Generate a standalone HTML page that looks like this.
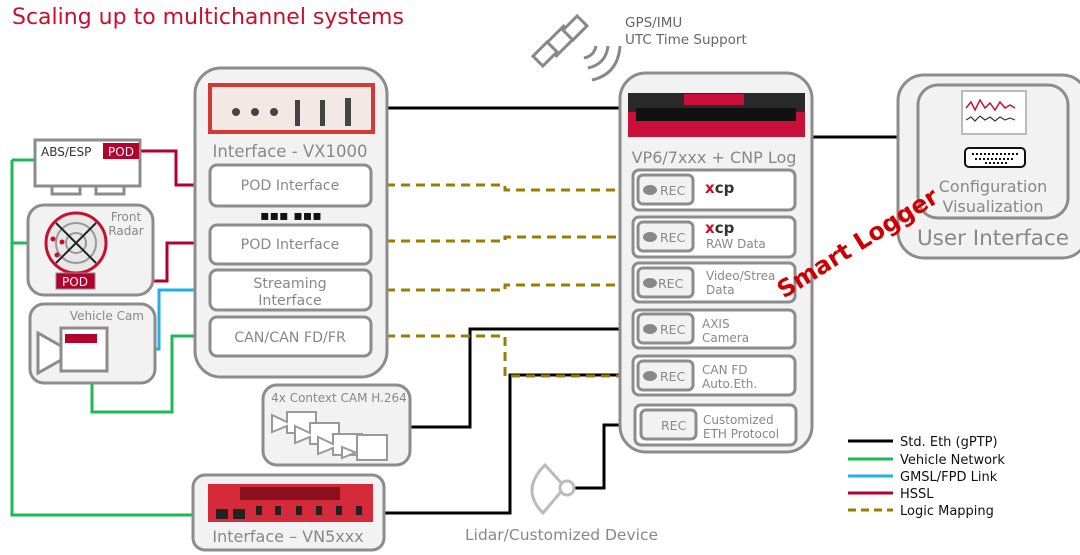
<!DOCTYPE html>
<html><head><meta charset="utf-8"><style>
body{margin:0;background:#fff;}
svg{display:block;font-family:"DejaVu Sans","Liberation Sans",sans-serif;}
</style></head><body>
<svg width="1080" height="555" viewBox="0 0 1080 555" xmlns="http://www.w3.org/2000/svg">
<text x="12" y="24" font-size="22" fill="#c8102e">Scaling up to multichannel systems</text>

<!-- GPS -->
<g stroke="#888" stroke-width="3" fill="#fff">
<rect x="552" y="28" width="16" height="26" transform="rotate(45 560 41)"/>
<rect x="538" y="44" width="14" height="20" transform="rotate(45 545 54)"/>
<rect x="568" y="18" width="14" height="20" transform="rotate(45 575 28)"/>
<path d="M584 58 q10 -2 12 -12 M588 68 q18 -4 20 -22 M592 80 q26 -6 28 -34" fill="none"/>
</g>
<text x="625" y="27" font-size="13.5" fill="#666">GPS/IMU</text>
<text x="625" y="44" font-size="13.5" fill="#666">UTC Time Support</text>

<!-- connectors -->
<g fill="none" stroke-width="3">
<path d="M12 160 V515 H195 M12 160 H37 M12 243 H46 M92 383 V412 H172 V336 H210" stroke="#1db954"/>
<path d="M140 151 H176 V185 H210 M95 281 H167 V243 H210" stroke="#b3002d"/>
<path d="M108 349 H159 V290 H210" stroke="#1fb0e8"/>
<path d="M373 108 H628 M810 137 H898 M410 427 H470 V329 H636 M385 513 H510 V375 H640 M575 488 H604 V425 H636" stroke="#000"/>
<g stroke="#9c7c00" stroke-dasharray="9,6">
<path d="M371 185 H505 V190 H640"/>
<path d="M371 241 H505 V237 H640"/>
<path d="M371 290 H505 V285 H640"/>
<path d="M371 336 H505 V376 H640"/>
</g>
</g>

<!-- VX1000 -->
<rect x="195" y="68" width="192" height="309" rx="26" fill="#f2f2f2" stroke="#8c8c8c" stroke-width="3"/>
<rect x="210" y="85" width="163" height="47" fill="#f4e8e4" stroke="#d23a3a" stroke-width="4"/>
<g fill="#444"><circle cx="236" cy="112" r="4"/><circle cx="255" cy="112" r="4"/><circle cx="274" cy="112" r="4"/><rect x="295" y="100" width="5" height="26"/><rect x="320" y="100" width="5" height="26"/><rect x="345" y="98" width="6" height="28"/></g>
<text x="290" y="157" font-size="16.5" fill="#888" text-anchor="middle">Interface - VX1000</text>
<g fill="#fff" stroke="#8c8c8c" stroke-width="3">
<rect x="210" y="165" width="161" height="41" rx="7"/>
<rect x="210" y="225" width="161" height="39" rx="7"/>
<rect x="210" y="270" width="161" height="40" rx="7"/>
<rect x="210" y="317" width="161" height="39" rx="7"/>
</g>
<g font-size="14.2" fill="#888" text-anchor="middle">
<text x="290" y="190">POD Interface</text>
<text x="290" y="249">POD Interface</text>
<text x="290" y="288">Streaming</text>
<text x="290" y="305">Interface</text>
<text x="290" y="342">CAN/CAN FD/FR</text>
</g>
<text x="291" y="220" font-size="14" font-weight="bold" fill="#111" text-anchor="middle">▪▪▪ ▪▪▪</text>

<!-- ABS/ESP -->
<g fill="#fff" stroke="#8c8c8c" stroke-width="3">
<rect x="52" y="186" width="28" height="8"/><rect x="96" y="186" width="28" height="8"/>
<rect x="35" y="140" width="105" height="46"/>
</g>
<rect x="103" y="143" width="36" height="16" fill="#b3002d"/>
<text x="121" y="156" font-size="12" fill="#fff" text-anchor="middle">POD</text>
<text x="41" y="156" font-size="12" fill="#333">ABS/ESP</text>

<!-- Radar -->
<rect x="28" y="205" width="125" height="90" rx="16" fill="#f2f2f2" stroke="#8c8c8c" stroke-width="3"/>
<circle cx="76" cy="243" r="30" fill="#e8e8e8" stroke="#c8102e" stroke-width="3"/>
<g fill="none" stroke="#999" stroke-width="2"><circle cx="76" cy="243" r="20"/><circle cx="76" cy="243" r="10"/></g>
<path d="M56 223 L96 263 M96 223 L56 263" stroke="#222" stroke-width="2"/>
<g fill="#c8102e"><circle cx="53" cy="239" r="2.5"/><circle cx="62" cy="242" r="2.5"/><circle cx="57" cy="255" r="2.5"/></g>
<rect x="56" y="273" width="39" height="16" fill="#b3002d" stroke="#8c8c8c" stroke-width="1"/>
<text x="75" y="286" font-size="12" fill="#fff" text-anchor="middle">POD</text>
<text x="126" y="221" font-size="12" fill="#888" text-anchor="middle">Front</text>
<text x="126" y="235" font-size="12" fill="#888" text-anchor="middle">Radar</text>

<!-- Vehicle cam -->
<rect x="30" y="304" width="125" height="79" rx="14" fill="#f2f2f2" stroke="#8c8c8c" stroke-width="3"/>
<text x="144" y="320" font-size="12" fill="#888" text-anchor="end">Vehicle Cam</text>
<g fill="#fff" stroke="#8c8c8c" stroke-width="3"><path d="M38 333 L61 346 V360 L38 373 Z"/><rect x="61" y="328" width="46" height="43"/></g>
<rect x="65" y="334" width="32" height="9" fill="#b3002d"/>

<!-- Context CAM -->
<rect x="263" y="385" width="147" height="80" rx="14" fill="#f2f2f2" stroke="#8c8c8c" stroke-width="3"/>
<text x="339" y="402" font-size="12" fill="#888" text-anchor="middle">4x Context CAM H.264</text>
<g fill="#fff" stroke="#999" stroke-width="2">
<path d="M272 415 L287 422 V412 H316 V433 H287 V426 L272 432Z"/>
<path d="M295 426 L310 433 V423 H339 V444 H310 V437 L295 443Z"/>
<path d="M318 437 L333 444 V434 H362 V455 H333 V448 L318 454Z"/>
<path d="M342 447 L357 453 V435 H387 V460 H357 V452 L342 458Z"/>
</g>

<!-- VN5xxx -->
<rect x="193" y="475" width="191" height="75" rx="12" fill="#f2f2f2" stroke="#8c8c8c" stroke-width="3"/>
<rect x="208" y="484" width="165" height="38" fill="#d42a3a"/>
<rect x="240" y="487" width="100" height="13" fill="#8a1020"/>
<g fill="#222"><rect x="216" y="509" width="12" height="10"/><rect x="233" y="509" width="12" height="10"/><rect x="256" y="506" width="6" height="9"/><rect x="275" y="506" width="6" height="9"/><rect x="296" y="506" width="6" height="9"/><rect x="316" y="506" width="6" height="9"/><rect x="336" y="506" width="6" height="9"/><rect x="356" y="506" width="6" height="9"/></g>
<text x="288" y="542" font-size="16" fill="#888" text-anchor="middle">Interface – VN5xxx</text>

<!-- Lidar -->
<path d="M545 465 L565 487 L543 513 Q520 490 545 465Z" fill="#fff" stroke="#bbb" stroke-width="3"/>
<circle cx="567" cy="488" r="7" fill="#fff" stroke="#bbb" stroke-width="3"/>
<text x="465" y="540" font-size="15.5" fill="#888">Lidar/Customized Device</text>

<!-- VP -->
<rect x="620" y="73" width="192" height="379" rx="26" fill="#f2f2f2" stroke="#8c8c8c" stroke-width="3"/>
<rect x="628" y="93" width="177" height="44" fill="#2a2a2a"/>
<rect x="628" y="112" width="177" height="25" fill="#c8103a"/>
<rect x="636" y="108" width="160" height="13" fill="#111"/>
<rect x="684" y="94" width="60" height="11" fill="#c8103a"/>
<text x="714" y="163" font-size="16" fill="#888" text-anchor="middle">VP6/7xxx + CNP Log</text>
<g fill="#fff" stroke="#8c8c8c" stroke-width="3">
<rect x="633" y="170" width="162" height="40" rx="6"/>
<rect x="633" y="217" width="162" height="40" rx="6"/>
<rect x="633" y="263" width="162" height="39" rx="6"/>
<rect x="633" y="310" width="162" height="38" rx="6"/>
<rect x="633" y="356" width="162" height="39" rx="6"/>
<rect x="635" y="405" width="161" height="40" rx="6"/>
<rect x="638" y="175" width="55" height="29" rx="5" fill="#f2f2f2"/>
<rect x="638" y="222" width="55" height="29" rx="5" fill="#f2f2f2"/>
<rect x="638" y="268" width="55" height="29" rx="5" fill="#f2f2f2"/>
<rect x="638" y="314" width="55" height="29" rx="5" fill="#f2f2f2"/>
<rect x="638" y="361" width="55" height="29" rx="5" fill="#f2f2f2"/>
<rect x="641" y="410" width="55" height="29" rx="5" fill="#f2f2f2"/>
</g>
<g fill="#888"><ellipse cx="650" cy="190" rx="7" ry="5"/><ellipse cx="650" cy="237" rx="7" ry="5"/><ellipse cx="650" cy="283" rx="7" ry="5"/><ellipse cx="650" cy="329" rx="7" ry="5"/><ellipse cx="650" cy="376" rx="7" ry="5"/></g>
<g font-size="12.5" fill="#888">
<text x="660" y="195">REC</text><text x="660" y="242">REC</text><text x="658" y="288">REC</text><text x="660" y="334">REC</text><text x="660" y="381">REC</text><text x="661" y="430">REC</text>
<text x="706" y="248" font-size="12">RAW Data</text>
<text x="706" y="280" font-size="12">Video/Strea</text><text x="706" y="294" font-size="12">Data</text>
<text x="702" y="328" font-size="12">AXIS</text><text x="702" y="342" font-size="12">Camera</text>
<text x="702" y="374" font-size="12">CAN FD</text><text x="702" y="388" font-size="12">Auto.Eth.</text>
<text x="703" y="424" font-size="12">Customized</text><text x="703" y="438" font-size="12">ETH Protocol</text>
</g>
<text x="705" y="193" font-size="15" font-weight="bold" fill="#333"><tspan fill="#c8102e">x</tspan>cp</text>
<text x="705" y="233" font-size="15" font-weight="bold" fill="#333"><tspan fill="#c8102e">x</tspan>cp</text>

<!-- User interface -->
<rect x="898" y="75" width="190" height="183" rx="26" fill="#f2f2f2" stroke="#8c8c8c" stroke-width="3"/>
<rect x="918" y="85" width="150" height="133" rx="20" fill="#f2f2f2" stroke="#8c8c8c" stroke-width="3"/>
<rect x="962" y="91" width="64" height="43" fill="#fff" stroke="#bbb" stroke-width="2"/>
<path d="M966 108 l5 -6 4 8 5 -10 5 8 5 -5 5 7 5 -8 5 6 5 -3 5 3" fill="none" stroke="#c8102e" stroke-width="1.5"/>
<path d="M966 120 l5 -3 4 4 5 -5 5 4 5 -3 5 4 5 -4 5 3 5 -2 5 2" fill="none" stroke="#333" stroke-width="1.2"/>
<rect x="965" y="148" width="60" height="19" rx="4" fill="#fff" stroke="#111" stroke-width="2"/>
<path d="M972 154 h46 M975 159 h40 M985 163 h22" stroke="#111" stroke-width="2" stroke-dasharray="2,2"/>
<text x="993" y="192" font-size="16" fill="#888" text-anchor="middle">Configuration</text>
<text x="993" y="212" font-size="16" fill="#888" text-anchor="middle">Visualization</text>
<text x="993" y="245" font-size="21.5" fill="#888" text-anchor="middle">User Interface</text>

<text x="0" y="0" font-size="24" font-weight="bold" fill="#c00" text-anchor="middle" transform="translate(862 250) rotate(-32)">Smart Logger</text>

<!-- Legend -->
<g stroke-width="3">
<path d="M848 441 H893" stroke="#000"/><path d="M848 459 H893" stroke="#1db954"/><path d="M848 476 H893" stroke="#1fb0e8"/><path d="M848 493 H893" stroke="#b3002d"/><path d="M848 510 H893" stroke="#9c7c00" stroke-dasharray="8,5"/>
</g>
<g font-size="13" fill="#111">
<text x="900" y="446">Std. Eth (gPTP)</text><text x="900" y="464">Vehicle Network</text><text x="900" y="481">GMSL/FPD Link</text><text x="900" y="498">HSSL</text><text x="900" y="515">Logic Mapping</text>
</g>
</svg>
</body></html>
